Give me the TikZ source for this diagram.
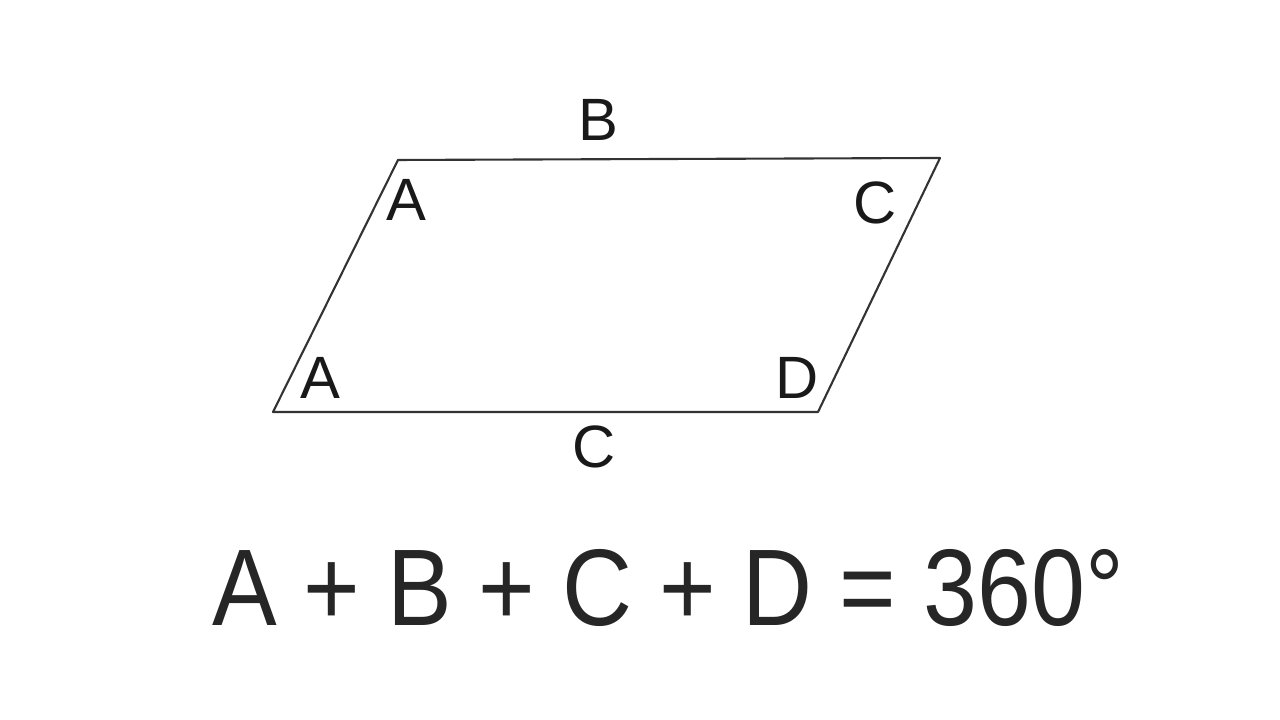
\documentclass[tikz,border=0pt]{standalone}
\usepackage{fontspec}
\setmainfont{Liberation Sans}
\usetikzlibrary{positioning}

\tikzset{
    edge/.style={draw=black!80, line width=0.6pt, line join=round},
    corner/.style={font=\fontsize{17}{20}\selectfont, text=black!90},
    sumline/.style={font=\fontsize{31}{36}\selectfont, text=black!85, xscale=0.89, transform shape}
}

\begin{document}
\begin{tikzpicture}
                \useasboundingbox (0,0) rectangle (12.8,7.2);

                \coordinate (tl) at (3.98,5.60);
                \coordinate (tr) at (9.40,5.62);
                \coordinate (br) at (8.18,3.08);
                \coordinate (bl) at (2.73,3.08);

                \draw[edge] (tl) -- (tr) -- (br) -- (bl) -- cycle;

                \node[corner] (labB) at (5.98,6.00) {B};
                \node[corner] (angA1) at (4.06,5.20) {A};
                \node[corner] (angC1) at (8.75,5.17) {C};
                \node[corner] (angA2) at (3.20,3.42) {A};
                \node[corner] (angD) at (7.97,3.42) {D};
                \node[corner] (labC) at (5.94,2.73) {C};

                \node[sumline] (total) at (6.68,1.32) {A + B + C + D = 360°};
            \end{tikzpicture}
\end{document}
